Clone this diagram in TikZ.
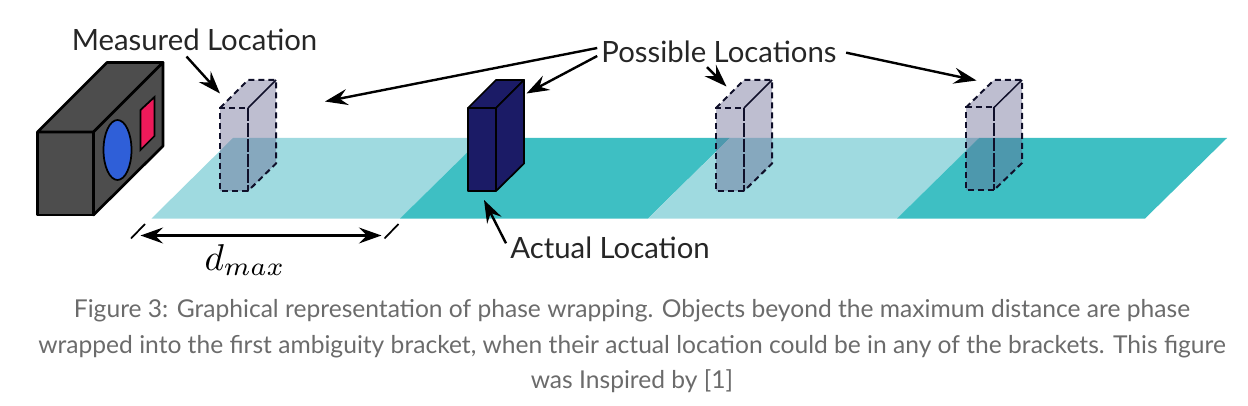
\documentclass[tikz,border=0pt]{standalone}
\usepackage{fontspec}
\setmainfont{Lato}
\usepackage{tikz}
\usetikzlibrary{arrows.meta}

\definecolor{striplight}{HTML}{9FDAE0}
\definecolor{stripdark}{HTML}{3EBFC3}
\definecolor{camgray}{HTML}{4D4D4D}
\definecolor{lensblue}{HTML}{2F5FD8}
\definecolor{flashred}{HTML}{EE1A5A}
\definecolor{actualblue}{HTML}{1B1B66}
\definecolor{ghostfill}{HTML}{64648F}
\definecolor{ghostedge}{HTML}{10102A}
\definecolor{captiongray}{HTML}{6B6B6B}

\tikzset{
	>={Stealth[length=17pt,width=12pt,inset=6pt]},
	pointer/.style={->,line width=1.8pt,black},
	camedge/.style={draw=black,line width=2pt,line join=round},
	ghostface/.style={fill=ghostfill,fill opacity=.42},
	ghostdash/.style={line width=1.5pt,dash pattern=on 4.5pt off 3pt,color=ghostedge},
	ghostmid/.style={line width=1.3pt,dash pattern=on 10pt off 1.5pt,color=ghostedge},
	ghostline/.style={line width=1.1pt,color=ghostedge},
	labeltext/.style={inner sep=0pt,text=black!85,font=\fontsize{22}{26}\selectfont},
}

\begin{document}
\begin{tikzpicture}[x=.75pt,y=-.75pt]
	\useasboundingbox (0,0) rectangle (1248,406);

	% floor strip
	\fill [striplight] (151.5,218.5) -- (233,138) -- (482,138) -- (400,218.5) -- cycle;
	\fill [stripdark] (400,218.5) -- (482,138) -- (730,138) -- (648,218.5) -- cycle;
	\fill [striplight] (648,218.5) -- (730,138) -- (979,138) -- (897,218.5) -- cycle;
	\fill [stripdark] (897,218.5) -- (979,138) -- (1227,138) -- (1145,218.5) -- cycle;

	% camera
	\filldraw [camedge,fill=camgray] (37.5,132) -- (93.5,132) -- (93.5,215) -- (37.5,215) -- cycle;
	\filldraw [camedge,fill=camgray] (37.5,132) -- (107,62.5) -- (163,62.5) -- (93.5,132) -- cycle;
	\filldraw [camedge,fill=camgray] (93.5,132) -- (163,62.5) -- (163,146) -- (93.5,215) -- cycle;
	\filldraw [line width=1.3pt,fill=lensblue] (117.5,150) ellipse [x radius=14,y radius=30];
	\filldraw [line width=1.3pt,fill=flashred] (140.5,110) -- (154.5,97) -- (154.5,136) -- (140.5,150) -- cycle;

	% measured box
	\fill [ghostface] (220,108) -- (248,80) -- (276,80) -- (276,163.5) -- (248,191) -- (220,191) -- cycle;
	\draw [ghostdash] (248,191) -- (220,191) -- (220,108) -- (248,108);
	\draw [ghostdash] (220,108) -- (248,80) -- (276,80) -- (276,163.5) -- (248,191);
	\draw [ghostmid] (248,108) -- (248,191);
	\draw [ghostline] (248,108) -- (276,80);

	% actual box
	\filldraw [line width=1.3pt,line join=round,fill=actualblue] (468,108) -- (496,108) -- (496,191) -- (468,191) -- cycle;
	\filldraw [line width=1.3pt,line join=round,fill=actualblue] (468,108) -- (496,80) -- (524,80) -- (496,108) -- cycle;
	\filldraw [line width=1.3pt,line join=round,fill=actualblue] (496,108) -- (524,80) -- (524,163.5) -- (496,191) -- cycle;

	% possible boxes
	\fill [ghostface] (716,108) -- (744,80) -- (772,80) -- (772,163.5) -- (744,191) -- (716,191) -- cycle;
	\draw [ghostdash] (744,191) -- (716,191) -- (716,108) -- (744,108);
	\draw [ghostdash] (716,108) -- (744,80) -- (772,80) -- (772,163.5) -- (744,191);
	\draw [ghostmid] (744,108) -- (744,191);
	\draw [ghostline] (744,108) -- (772,80);

	\fill [ghostface] (966,107.5) -- (994,80) -- (1022,80) -- (1022,163) -- (994,190) -- (966,190) -- cycle;
	\draw [ghostdash] (994,190) -- (966,190) -- (966,107.5) -- (994,107.5);
	\draw [ghostdash] (966,107.5) -- (994,80) -- (1022,80) -- (1022,163) -- (994,190);
	\draw [ghostmid] (994,107.5) -- (994,190);
	\draw [ghostline] (994,107.5) -- (1022,80);

	% labels
	\node [labeltext] (measured) at (194.5,40) {Measured Location};
	\node [labeltext] (possible) at (719,52) {Possible Locations};
	\node [labeltext] (actual) at (610,248) {Actual Location};
	\node [inner sep=0pt,scale=2.8] (dmax) at (245,260) {$d_{max}$};
	\node [inner sep=0pt,text=captiongray,align=center,font=\fontsize{18.45}{26.6}\selectfont] (caption) at (632,346.5)
		{Figure 3: Graphical representation of phase wrapping. Objects beyond the maximum distance are phase\\
		wrapped into the first ambiguity bracket, when their actual location could be in any of the brackets. This figure\\
		was Inspired by [1]};

	% free ends
	\coordinate (measuredtip) at (220,93.5);
	\coordinate (emptytip) at (325,101.5);
	\coordinate (actualtip) at (526.5,93.5);
	\coordinate (thirdtip) at (726.5,86.5);
	\coordinate (fourthtip) at (976.5,80.5);
	\coordinate (bottomtip) at (484,200);
	\coordinate (leftend) at (140.5,235.5);
	\coordinate (rightend) at (381.5,235.5);

	% pointers
	\draw [pointer] ([xshift=-6pt,yshift=-4pt]measured.south) -- (measuredtip);
	\draw [pointer] ([xshift=-3pt,yshift=3pt]possible.west) -- (emptytip);
	\draw [pointer] ([xshift=-3pt,yshift=-3pt]possible.west) -- (actualtip);
	\draw [pointer] ([xshift=-9pt,yshift=-3pt]possible.south) -- (thirdtip);
	\draw [pointer] ([xshift=7pt,yshift=-.5pt]possible.east) -- (fourthtip);
	\draw [pointer] ([xshift=-3pt,yshift=3.5pt]actual.west) -- (bottomtip);

	% distance mark
	\draw [<->,line width=1.8pt] (leftend) -- (rightend);
	\draw [line width=1.3pt] (131,238.5) -- (145,224);
	\draw [line width=1.3pt] (384.5,238.5) -- (398.5,224);
\end{tikzpicture}
\end{document}
